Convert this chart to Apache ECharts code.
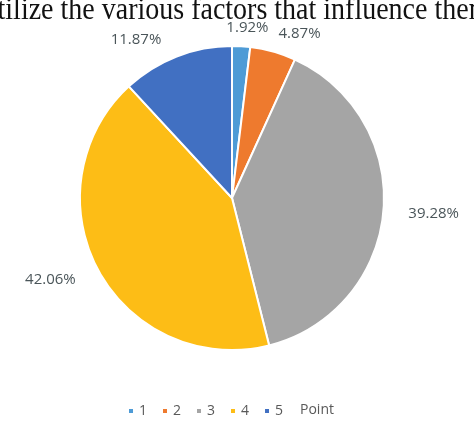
<!DOCTYPE html>
<html>
<head>
<meta charset="utf-8">
<script src="https://cdn.jsdelivr.net/npm/echarts@6/dist/echarts.min.js"></script>
<style>
  html, body { margin: 0; padding: 0; background: #fff; }
  #chart { width: 474px; height: 430px; }
</style>
</head>
<body>
<div id="chart"></div>
<script>
const categories = ['1', '2', '3', '4', '5'];
const values = [1.92, 4.87, 39.28, 42.06, 11.87];
const colors = ['#4e9bd6', '#ee7a2e', '#a5a5a5', '#fdbd16', '#4170c2'];
// small nudges so labels sit where the reference puts them
const labelShift = [[-21, 1], [-5, 1], [0, 0], [0, 0], [-3, 2]];

const chart = echarts.init(document.getElementById('chart'));

chart.setOption({
  animation: false,
  color: colors,
  graphic: [
    {
      type: 'text',
      left: 'center',
      top: -5,
      scaleY: 1.12,
      style: {
        text: 'utilize the various factors that influence them',
        font: '28px "Liberation Serif", "DejaVu Serif", serif',
        fill: '#111'
      }
    },
    {
      type: 'text',
      left: 300,
      top: 403,
      style: {
        text: 'Point',
        font: '14px "Open Sans", sans-serif',
        fill: '#595959'
      }
    }
  ],
  legend: {
    data: categories,
    left: 127,
    top: 404,
    padding: 0,
    icon: 'rect',
    itemWidth: 6,
    itemHeight: 6,
    itemGap: 14,
    textStyle: { color: '#595959', fontSize: 14, fontFamily: '"Open Sans", sans-serif' }
  },
  series: [
    {
      type: 'pie',
      center: [232, 198],
      radius: 152,
      startAngle: 90,
      clockwise: true,
      avoidLabelOverlap: false,
      data: categories.map((c, i) => ({ name: c, value: values[i] })),
      itemStyle: { borderColor: '#fff', borderWidth: 2 },
      label: {
        show: true,
        position: 'outside',
        formatter: (p) => p.value.toFixed(2) + '%',
        color: '#4a5559',
        fontSize: 15,
        fontFamily: '"Open Sans", sans-serif'
      },
      labelLine: { show: false, length: 20, length2: 0 },
      labelLayout: (p) => ({ dx: labelShift[p.dataIndex][0], dy: labelShift[p.dataIndex][1] }),
      emphasis: { disabled: true }
    }
  ]
});
</script>
</body>
</html>
